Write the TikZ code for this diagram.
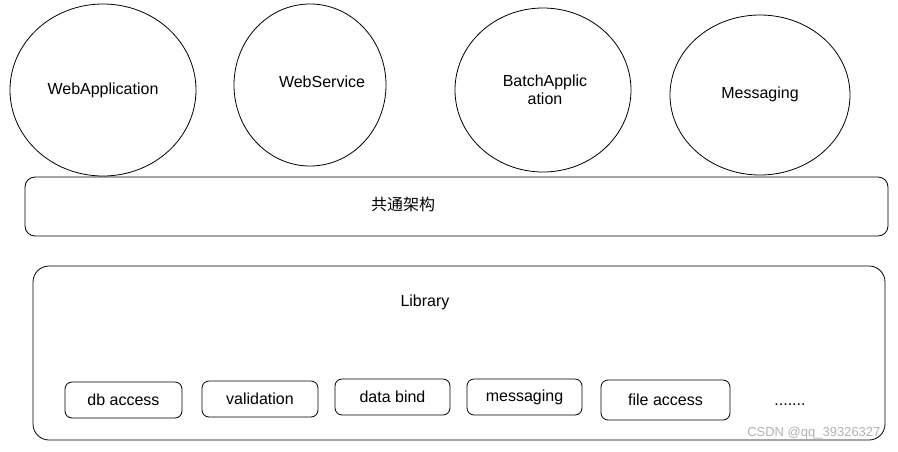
\documentclass[tikz,border=0pt]{standalone}
\usepackage{fontspec}
\setmainfont{Liberation Sans}
\newfontfamily\cjk{Noto Sans CJK SC}
\begin{document}
\begin{tikzpicture}[x=1pt,y=-1pt,
  circ/.style={draw,line width=0.8pt},
  bar/.style={draw,rounded corners=10pt,line width=0.8pt},
  lib/.style={draw,rounded corners=7pt,line width=0.8pt,minimum height=36pt,font=\fontsize{16}{18}\selectfont},
  lbl/.style={font=\fontsize{16}{18}\selectfont,align=center}]
\path[use as bounding box,fill=white] (0,0) rectangle (898,451);
\draw[circ] (103,90) ellipse [x radius=93,y radius=86];
\node[lbl] (wa) at (103,90) {WebApplication};
\draw[circ] (310,85) ellipse [x radius=76,y radius=81];
\node[lbl] (ws) at (322,82) {WebService};
\draw[circ] (543,90) ellipse [x radius=88,y radius=82];
\node[lbl] (ba) at (545,90) {BatchApplic\\ation};
\draw[circ] (760,95) ellipse [x radius=90,y radius=80];
\node[lbl] (ms) at (760,94) {Messaging};
\draw[bar] (25,177) rectangle (888,236);
\node[lbl] (cm) at (403,204) {\cjk 共通架构};
\draw[bar,rounded corners=16pt] (33,266) rectangle (885,440);
\node[lbl] (li) at (425,302) {Library};
\node[lib,minimum width=117pt] (db) at (123.5,400) {db access};
\node[lib,minimum width=116pt] (va) at (260,399) {validation};
\node[lib,minimum width=115pt] (dbd) at (392.5,397) {data bind};
\node[lib,minimum width=115pt] (me) at (524.5,397) {messaging};
\node[lib,minimum width=129pt,minimum height=40pt] (fa) at (665.5,400) {file access};
\node[lbl] (dots) at (790,405) {.......};
\node[font=\fontsize{13}{15}\selectfont,text=gray!60,anchor=east] (wm) at (884,433) {CSDN @qq\_39326327};
\end{tikzpicture}
\end{document}
